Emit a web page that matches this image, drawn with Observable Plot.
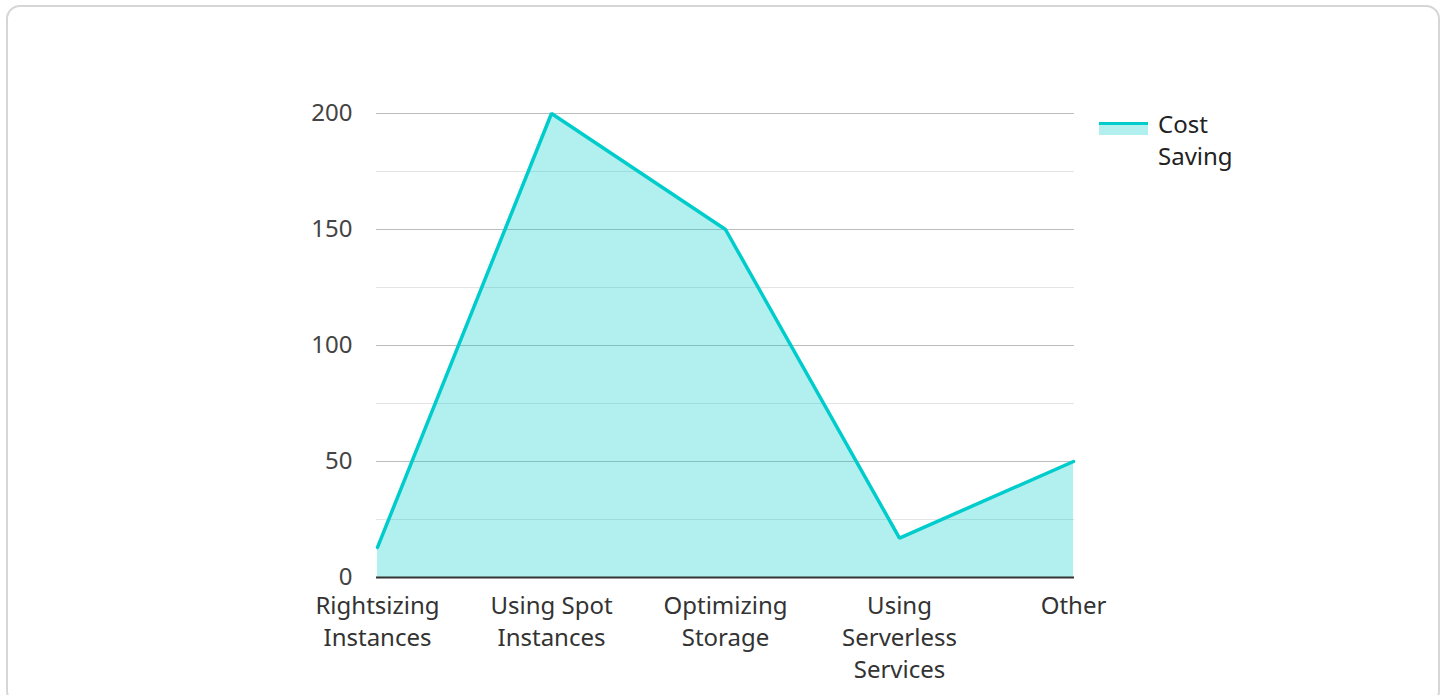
<!DOCTYPE html>
<html>
<head>
<meta charset="utf-8">
<script src="https://cdn.jsdelivr.net/npm/d3@7"></script>
<script src="https://cdn.jsdelivr.net/npm/@observablehq/plot@0.6"></script>
<style>
  html, body { margin: 0; padding: 0; background: #fff; width: 1447px; height: 695px; overflow: hidden; font-family: "Noto Sans", sans-serif; }
  #frame { position: absolute; left: 6px; top: 5px; width: 1434px; height: 700px; border: 2px solid #d6d6d6; border-radius: 14px; box-sizing: border-box; }
  #chart { position: absolute; left: 0; top: 0; }
  #legend { position: absolute; left: 1099px; top: 108px; display: flex; align-items: flex-start; }
  #legend .sw { width: 49px; height: 13px; margin-top: 14px; background: rgba(0,204,204,0.3); border-top: 3px solid #00cccc; box-sizing: border-box; }
  #legend .lb { margin-left: 10px; font-size: 24px; line-height: 32px; color: #222; }
</style>
</head>
<body>
<div id="frame"></div>
<div id="chart"></div>
<div id="legend"><div class="sw"></div><div class="lb">Cost<br>Saving</div></div>
<script>
const categories = ["Rightsizing Instances", "Using Spot Instances", "Optimizing Storage", "Using Serverless Services", "Other"];
const tickLabels = ["Rightsizing\nInstances", "Using Spot\nInstances", "Optimizing\nStorage", "Using\nServerless\nServices", "Other"];
const costSaving = [13, 200, 150, 17, 50];
const majorTicks = [0, 50, 100, 150, 200];
const minorTicks = [25, 75, 125, 175];

const data = categories.map((c, i) => ({category: c, value: costSaving[i]}));
const labelOf = new Map(categories.map((c, i) => [c, tickLabels[i]]));

const chart = Plot.plot({
  width: 1447,
  height: 695,
  marginLeft: 376,
  marginRight: 373,
  marginTop: 113,
  marginBottom: 118,
  style: {fontFamily: "'Noto Sans', sans-serif", fontSize: "24px", color: "#444", background: "transparent"},
  x: {type: "point", domain: categories, padding: 0},
  y: {domain: [0, 200]},
  marks: [
    Plot.ruleY(minorTicks, {stroke: "#e4e4e4", strokeWidth: 1}),
    Plot.ruleY(majorTicks.filter(d => d > 0), {stroke: "#bcbcbc", strokeWidth: 1}),
    Plot.areaY(data, {x: "category", y: "value", fill: "#00cccc", fillOpacity: 0.3}),
    Plot.lineY(data, {x: "category", y: "value", stroke: "#00cccc", strokeWidth: 3.5, strokeLinejoin: "miter"}),
    Plot.ruleY([0], {stroke: "#333", strokeWidth: 2}),
    Plot.axisY({ticks: majorTicks, tickSize: 0, tickPadding: 24, fontSize: 24, fill: "#444", label: null}),
    Plot.axisX({tickSize: 0, tickPadding: 14, fontSize: 24, fill: "#333", lineHeight: 1.333, label: null, tickFormat: d => labelOf.get(d), textOverflow: null, lineWidth: Infinity})
  ]
});
document.getElementById("chart").appendChild(chart);
</script>
</body>
</html>
